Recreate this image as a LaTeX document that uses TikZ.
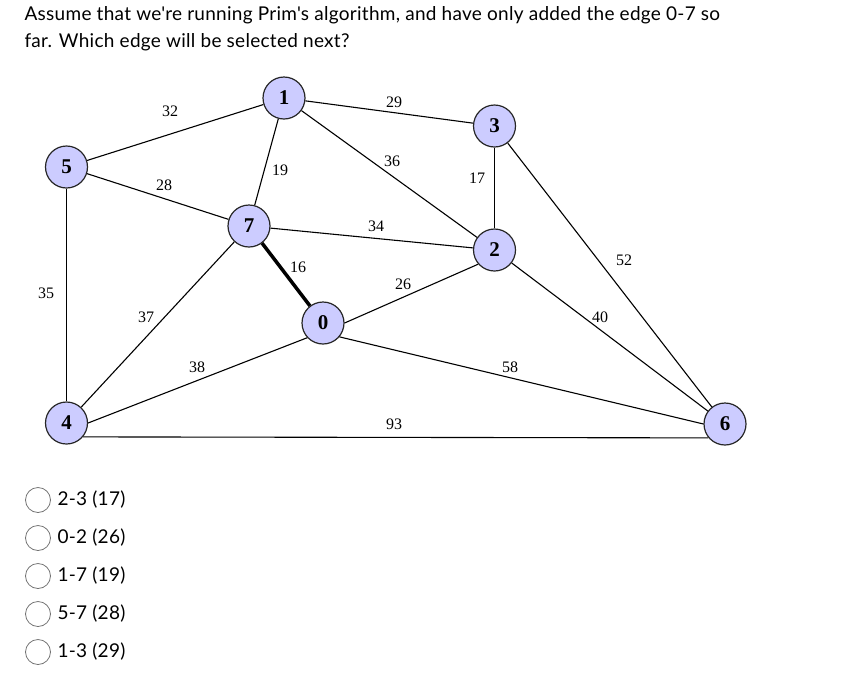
\documentclass[tikz,border=0pt]{standalone}
\usepackage{fontspec}
\setmainfont{Lato}[LetterSpace=1.5]
\newfontfamily\graphfont{Liberation Serif}
\usepackage{xcolor}
\definecolor{vfill}{HTML}{CCCCFF}
\tikzstyle{vertex}=[circle, draw=black!85, line width=1.2pt, minimum size=42pt, inner sep=0pt, fill=vfill, font=\graphfont\bfseries\fontsize{21}{21}\selectfont]
\tikzstyle{weight}=[inner sep=1pt, font=\graphfont\fontsize{16}{16}\selectfont]
\tikzstyle{choice}=[circle, draw=black!55, line width=0.8pt, minimum size=25pt, inner sep=0pt]
\tikzstyle{prose}=[inner sep=0pt, font=\fontsize{19}{23}\selectfont]
\newcommand{\vertex}{\node[vertex]}

\begin{document}
\begin{tikzpicture}[x=1pt, y=-1pt, line width=1.1pt]
\useasboundingbox (0,0) rectangle (846,681);
% question
\node[prose, anchor=base west] (q1) at (24,20) {Assume that we\textquotesingle re running Prim\textquotesingle s algorithm, and have only added the edge 0-7 so};
\node[prose, anchor=base west] (q2) at (24,47) {far. Which edge will be selected next?};
% vertices
\foreach \n/\x/\y in {1/284/98, 5/66.5/167, 7/249/226, 0/323/323, 3/494.5/126, 2/494.5/250, 6/725/424, 4/66.5/423}{
	\vertex (v\n) at (\x,\y) {\n};
	}
% edges and weights
\foreach \a/\b/\w/\x/\y in {5/1/32/170/111, 5/7/28/164/185, 1/7/19/280/170, 5/4/35/46/293, 7/4/37/146/317, 1/3/29/394/102, 1/2/36/392/161, 3/2/17/477/178, 7/2/34/376/226, 3/6/52/624/260, 2/6/40/600/317}{
	\draw (v\a) -- (v\b);
	\node[weight] (w\w) at (\x,\y) {\w};
	}
\draw (v4.east) -- (v0.223);
\node[weight] (w38) at (197,367) {38};
\draw (v0.east) -- (v2.221);
\node[weight] (w26) at (403,284) {26};
\draw (v0.-40) -- (v6.west);
\node[weight] (w58) at (510,367) {58};
\draw (v4.-40) -- (v6.-140);
\node[weight] (w93) at (394,424) {93};
\draw[line width=3.5pt] (v7) -- (v0);
\node[weight] (w16) at (298,267) {16};
% answers
\foreach \t [count=\i] in {2-3 (17), 0-2 (26), 1-7 (19), 5-7 (28), 1-3 (29)}{
	\node[choice] (c\i) at (38,462+38*\i) {};
	\node[prose, anchor=west] (a\i) at (57,462+38*\i) {\t};
	}
\end{tikzpicture}
\end{document}
